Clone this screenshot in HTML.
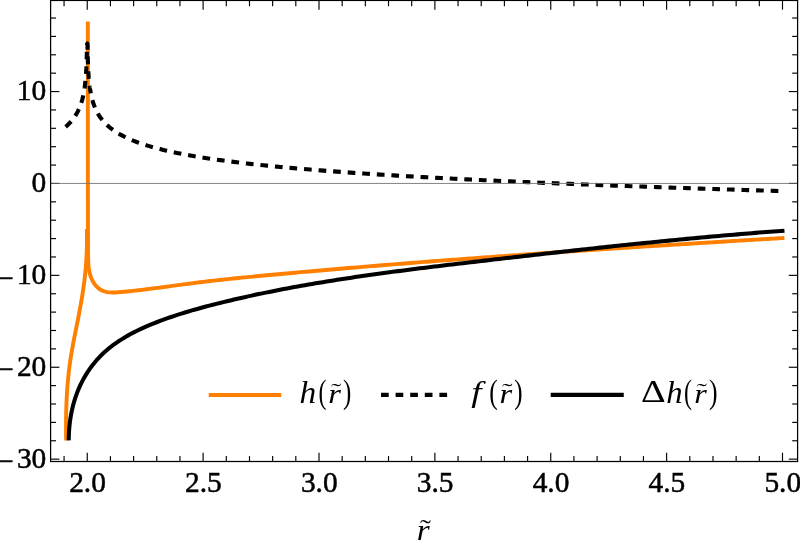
<!DOCTYPE html>
<html lang="en">
<head>
<meta charset="utf-8">
<title>Plot of h, f and Δh versus r̃</title>
<style>
html,body{margin:0;padding:0;background:#fff;}
body{width:800px;height:540px;overflow:hidden;}
svg{display:block;}
.tk{font-family:"Liberation Serif","DejaVu Serif",serif;font-size:29.6px;fill:#000;stroke:#000;stroke-width:0.5px;}
.mi{font-family:"Liberation Serif","DejaVu Serif",serif;font-style:italic;font-size:30px;fill:#000;}
.mr{font-family:"Liberation Serif","DejaVu Serif",serif;font-size:30px;fill:#000;}
</style>
</head>
<body>
<svg width="800" height="540" viewBox="0 0 800 540">
<rect x="0" y="0" width="800" height="540" fill="#ffffff"/>
<defs><clipPath id="pc"><rect x="51" y="1" width="746" height="439.6"/></clipPath></defs>
<g clip-path="url(#pc)" fill="none" stroke-linejoin="round">
<path d="M66.13,441.02 L66.09,438.31 L66.06,435.60 L66.04,432.89 L66.02,430.18 L66.02,427.48 L66.02,424.77 L66.04,422.06 L66.06,419.35 L66.10,416.65 L66.15,413.94 L66.21,411.23 L66.29,408.53 L66.37,405.82 L66.47,403.12 L66.59,400.42 L66.72,397.72 L66.86,395.02 L67.03,392.32 L67.20,389.63 L67.40,386.93 L67.61,384.24 L67.84,381.55 L68.08,378.86 L68.35,376.17 L68.63,373.49 L68.93,370.81 L69.26,368.13 L69.60,365.45 L69.97,362.78 L70.35,360.11 L70.76,357.44 L71.19,354.77 L71.64,352.11 L72.10,349.45 L72.58,346.79 L73.07,344.13 L73.57,341.47 L74.08,338.82 L74.60,336.17 L75.13,333.51 L75.66,330.86 L76.19,328.21 L76.72,325.55 L77.25,322.90 L77.77,320.25 L78.29,317.59 L78.81,314.94 L79.32,312.28 L79.82,309.62 L80.30,306.96 L80.78,304.30 L81.25,301.64 L81.71,298.98 L82.15,296.31 L82.58,293.64 L82.99,290.97 L83.38,288.30 L83.76,285.63 L84.12,282.95 L84.46,280.28 L84.78,277.59 L85.08,274.91 L85.36,272.23 L85.61,269.54 L85.84,266.85 L86.05,264.15 L86.24,261.46 L86.41,258.76 L86.55,256.06 L86.67,253.36 L86.77,250.65 L86.85,247.95 L86.91,245.24 L86.95,242.53 L86.97,239.82 L86.96,237.11 L86.94,234.40 L86.89,231.68 L86.83,228.97" stroke="#ff8000" stroke-width="3.9"/>
<path d="M87.85,21.40 L87.90,200.00 L88.04,250.03 L88.11,252.58 L88.13,255.26 L88.16,258.04 L88.22,260.90 L88.35,263.80 L88.59,266.74 L88.98,269.68 L89.54,272.59 L90.32,275.45 L91.35,278.23 L92.61,280.88 L94.10,283.36 L95.80,285.62 L97.71,287.60 L99.81,289.27 L102.09,290.57 L104.53,291.49 L107.11,292.08 L109.80,292.40 L112.57,292.50 L115.41,292.44 L118.29,292.26 L121.18,292.02 L124.05,291.75 L126.92,291.48 L129.78,291.19 L132.63,290.90 L135.48,290.59 L138.31,290.27 L141.14,289.94 L143.96,289.60 L146.77,289.26 L149.58,288.91 L152.38,288.55 L155.18,288.19 L157.98,287.82 L160.76,287.45 L163.55,287.07 L166.33,286.70 L169.12,286.32 L171.89,285.94 L174.67,285.57 L177.45,285.19 L180.23,284.81 L183.00,284.44 L185.78,284.07 L188.56,283.71 L191.34,283.35 L194.12,283.00 L196.91,282.65 L199.69,282.31 L202.48,281.97 L205.27,281.64 L208.06,281.31 L210.85,280.98 L213.64,280.66 L216.44,280.35 L219.24,280.04 L222.03,279.73 L224.83,279.43 L227.63,279.13 L230.44,278.83 L233.24,278.54 L236.04,278.25 L238.85,277.97 L241.65,277.68 L244.46,277.40 L247.26,277.13 L250.07,276.85 L252.88,276.58 L255.69,276.31 L258.50,276.04 L261.31,275.77 L264.12,275.51 L266.93,275.25 L269.74,274.99 L272.55,274.73 L275.36,274.47 L278.17,274.21 L280.98,273.95 L283.79,273.70 L286.60,273.44 L289.42,273.19 L292.23,272.94 L295.04,272.69 L297.85,272.43 L300.66,272.18 L303.47,271.93 L306.28,271.69 L309.09,271.44 L311.90,271.19 L314.71,270.94 L317.53,270.70 L320.34,270.45 L323.15,270.21 L325.96,269.97 L328.77,269.73 L331.58,269.48 L334.39,269.24 L337.20,269.00 L340.01,268.76 L342.82,268.53 L345.63,268.29 L348.45,268.05 L351.26,267.81 L354.07,267.58 L356.88,267.34 L359.69,267.11 L362.50,266.88 L365.31,266.65 L368.12,266.41 L370.93,266.18 L373.74,265.95 L376.55,265.72 L379.36,265.49 L382.18,265.27 L384.99,265.04 L387.80,264.81 L390.61,264.59 L393.42,264.36 L396.23,264.14 L399.04,263.91 L401.85,263.69 L404.66,263.47 L407.47,263.24 L410.28,263.02 L413.09,262.80 L415.91,262.58 L418.72,262.36 L421.53,262.15 L424.34,261.93 L427.15,261.71 L429.96,261.49 L432.77,261.28 L435.58,261.06 L438.39,260.85 L441.20,260.63 L444.02,260.42 L446.83,260.21 L449.64,260.00 L452.45,259.78 L455.26,259.57 L458.07,259.36 L460.88,259.15 L463.69,258.94 L466.50,258.74 L469.31,258.53 L472.13,258.32 L474.94,258.11 L477.75,257.91 L480.56,257.70 L483.37,257.50 L486.18,257.29 L488.99,257.09 L491.80,256.88 L494.62,256.68 L497.43,256.48 L500.24,256.28 L503.05,256.08 L505.86,255.87 L508.67,255.67 L511.48,255.47 L514.30,255.28 L517.11,255.08 L519.92,254.88 L522.73,254.68 L525.54,254.48 L528.35,254.29 L531.17,254.09 L533.98,253.90 L536.79,253.70 L539.60,253.51 L542.41,253.31 L545.22,253.12 L548.04,252.92 L550.85,252.73 L553.66,252.54 L556.47,252.35 L559.28,252.16 L562.10,251.96 L564.91,251.77 L567.72,251.58 L570.53,251.39 L573.35,251.20 L576.16,251.02 L578.97,250.83 L581.78,250.64 L584.59,250.45 L587.41,250.27 L590.22,250.08 L593.03,249.89 L595.84,249.71 L598.66,249.52 L601.47,249.34 L604.28,249.15 L607.09,248.97 L609.91,248.78 L612.72,248.60 L615.53,248.42 L618.35,248.23 L621.16,248.05 L623.97,247.87 L626.79,247.69 L629.60,247.51 L632.41,247.32 L635.22,247.14 L638.04,246.96 L640.85,246.78 L643.66,246.60 L646.48,246.42 L649.29,246.24 L652.11,246.07 L654.92,245.89 L657.73,245.71 L660.55,245.53 L663.36,245.35 L666.17,245.18 L668.99,245.00 L671.80,244.82 L674.62,244.65 L677.43,244.47 L680.24,244.30 L683.06,244.12 L685.87,243.94 L688.69,243.77 L691.50,243.59 L694.32,243.42 L697.13,243.25 L699.94,243.07 L702.76,242.90 L705.57,242.72 L708.39,242.55 L711.20,242.38 L714.02,242.21 L716.83,242.03 L719.65,241.86 L722.46,241.69 L725.28,241.52 L728.09,241.35 L730.91,241.17 L733.72,241.00 L736.54,240.83 L739.36,240.66 L742.17,240.49 L744.99,240.32 L747.80,240.15 L750.62,239.98 L753.43,239.81 L756.25,239.64 L759.07,239.47 L761.88,239.30 L764.70,239.13 L767.51,238.96 L770.33,238.79 L773.15,238.62 L775.96,238.45 L778.78,238.29 L781.60,238.12 L784.41,237.95" stroke="#ff8000" stroke-width="3.9" stroke-linejoin="miter"/>
<path d="M65.60,126.89 L65.95,126.59 L66.29,126.28 L66.64,125.97 L66.98,125.66 L67.33,125.34 L67.67,125.01 L68.02,124.68 L68.37,124.34 L68.71,124.00 L69.06,123.64 L69.40,123.29 L69.75,122.92 L70.09,122.55 L70.44,122.17 L70.79,121.78 L71.13,121.39 L71.48,120.98 L71.82,120.57 L72.17,120.15 L72.52,119.72 L72.86,119.28 L73.21,118.82 L73.55,118.36 L73.90,117.88 L74.24,117.39 L74.59,116.89 L74.94,116.38 L75.28,115.85 L75.63,115.30 L75.97,114.74 L76.32,114.16 L76.66,113.56 L77.01,112.94 L77.36,112.30 L77.70,111.64 L78.05,110.96 L78.39,110.24 L78.74,109.50 L79.08,108.73 L79.43,107.93 L79.78,107.09 L80.12,106.21 L80.47,105.28 L80.81,104.31 L81.16,103.28 L81.51,102.19 L81.85,101.04 L82.20,99.81 L82.54,98.49 L82.89,97.08 L83.23,95.54 L83.58,93.87 L83.93,92.03 L84.27,89.99 L84.62,87.70 L84.96,85.08 L85.31,82.04 L85.65,78.39 L86.00,73.86 L86.00,73.86 L86.02,73.55 L86.04,73.24 L86.06,72.93 L86.08,72.61 L86.10,72.28 L86.12,71.95 L86.14,71.61 L86.16,71.27 L86.18,70.92 L86.20,70.56 L86.22,70.20 L86.24,69.82 L86.26,69.44 L86.28,69.06 L86.31,68.66 L86.33,68.26 L86.35,67.84 L86.37,67.42 L86.39,66.99 L86.41,66.55 L86.43,66.09 L86.45,65.63 L86.47,65.15 L86.49,64.66 L86.51,64.16 L86.53,63.64 L86.55,63.11 L86.57,62.56 L86.59,62.00 L86.61,61.42 L86.63,60.82 L86.65,60.20 L86.67,59.56 L86.69,58.89 L86.71,58.21 L86.73,57.49 L86.75,56.75 L86.77,55.97 L86.79,55.16 L86.81,54.32 L86.83,53.43 L86.85,52.50 L86.87,51.52 L86.89,50.49 L86.92,49.39 L86.94,48.23 L86.96,46.98 L86.98,45.65 L87.00,44.22 L87.40,43.50 L87.51,44.34 L87.54,46.67 L87.57,48.75 L87.61,50.61 L87.64,52.31 L87.68,53.86 L87.71,55.29 L87.74,56.62 L87.78,57.87 L87.81,59.03 L87.85,60.12 L87.88,61.16 L87.92,62.14 L87.95,63.07 L87.98,63.95 L88.02,64.80 L88.05,65.61 L88.09,66.38 L88.12,67.13 L88.15,67.84 L88.19,68.53 L88.22,69.19 L88.26,69.84 L88.29,70.45 L88.33,71.05 L88.36,71.64 L88.39,72.20 L88.43,72.75 L88.46,73.28 L88.50,73.79 L88.53,74.29 L88.56,74.78 L88.60,75.26 L88.63,75.73 L88.67,76.18 L88.70,76.62 L88.74,77.05 L88.77,77.48 L88.80,77.89 L88.84,78.29 L88.87,78.69 L88.91,79.07 L88.94,79.45 L88.97,79.82 L89.01,80.19 L89.04,80.55 L89.08,80.90 L89.11,81.24 L89.15,81.58 L89.18,81.91 L89.21,82.24 L89.25,82.56 L89.28,82.87 L89.32,83.18 L89.35,83.49 L89.38,83.78 L89.42,84.08 L89.45,84.37 L89.49,84.66 L89.52,84.94 L89.56,85.21 L89.59,85.49 L89.62,85.76 L89.66,86.02 L89.69,86.28 L89.73,86.54 L89.76,86.80 L89.79,87.05 L89.83,87.29 L89.86,87.54 L89.90,87.78 L89.93,88.02 L89.97,88.25 L90.00,88.48 L90.38,90.89 L90.76,93.01 L91.14,94.92 L91.52,96.65 L91.90,98.23 L92.28,99.68 L92.66,101.03 L93.04,102.29 L93.42,103.47 L93.80,104.58 L94.18,105.63 L94.56,106.61 L94.94,107.55 L95.32,108.45 L95.70,109.30 L96.08,110.12 L96.46,110.90 L96.84,111.65 L97.22,112.37 L97.59,113.06 L97.97,113.73 L98.35,114.37 L98.73,115.00 L99.11,115.60 L99.49,116.18 L99.87,116.75 L100.25,117.30 L100.63,117.83 L101.01,118.35 L101.39,118.85 L101.77,119.34 L102.15,119.82 L102.53,120.29 L102.91,120.74 L103.29,121.19 L103.67,121.62 L104.05,122.04 L104.43,122.46 L104.81,122.86 L105.19,123.26 L105.57,123.65 L105.95,124.02 L106.33,124.40 L106.71,124.76 L107.09,125.12 L107.47,125.47 L107.85,125.81 L108.23,126.15 L108.61,126.48 L108.99,126.81 L109.37,127.13 L109.75,127.45 L110.13,127.75 L110.51,128.06 L110.89,128.36 L111.27,128.65 L111.65,128.94 L112.03,129.23 L112.41,129.51 L112.78,129.79 L113.16,130.06 L113.54,130.33 L113.92,130.59 L114.30,130.86 L114.68,131.11 L115.06,131.37 L115.44,131.62 L115.82,131.86 L116.20,132.11 L116.58,132.35 L116.96,132.59 L117.34,132.82 L117.72,133.05 L118.10,133.28 L118.48,133.51 L118.86,133.73 L119.24,133.95 L119.62,134.17 L120.00,134.39 L123.34,136.18 L126.68,137.81 L130.02,139.31 L133.35,140.69 L136.69,141.98 L140.03,143.19 L143.37,144.31 L146.71,145.38 L150.05,146.38 L153.39,147.33 L156.73,148.24 L160.06,149.10 L163.40,149.92 L166.74,150.71 L170.08,151.47 L173.42,152.19 L176.76,152.89 L180.10,153.56 L183.44,154.21 L186.77,154.83 L190.11,155.44 L193.45,156.02 L196.79,156.59 L200.13,157.14 L203.47,157.67 L206.81,158.19 L210.14,158.69 L213.48,159.18 L216.82,159.66 L220.16,160.12 L223.50,160.58 L226.84,161.02 L230.18,161.45 L233.52,161.87 L236.85,162.29 L240.19,162.69 L243.53,163.08 L246.87,163.47 L250.21,163.85 L253.55,164.22 L256.89,164.58 L260.23,164.94 L263.56,165.28 L266.90,165.63 L270.24,165.96 L273.58,166.29 L276.92,166.62 L280.26,166.94 L283.60,167.25 L286.93,167.56 L290.27,167.86 L293.61,168.16 L296.95,168.45 L300.29,168.74 L303.63,169.02 L306.97,169.30 L310.31,169.58 L313.64,169.85 L316.98,170.12 L320.32,170.38 L323.66,170.64 L327.00,170.90 L330.34,171.15 L333.68,171.40 L337.02,171.65 L340.35,171.89 L343.69,172.13 L347.03,172.36 L350.37,172.60 L353.71,172.83 L357.05,173.06 L360.39,173.28 L363.72,173.51 L367.06,173.73 L370.40,173.94 L373.74,174.16 L377.08,174.37 L380.42,174.58 L383.76,174.79 L387.10,175.00 L390.43,175.20 L393.77,175.40 L397.11,175.60 L400.45,175.80 L403.79,175.99 L407.13,176.19 L410.47,176.38 L413.81,176.57 L417.14,176.76 L420.48,176.94 L423.82,177.13 L427.16,177.31 L430.50,177.49 L433.84,177.67 L437.18,177.85 L440.51,178.02 L443.85,178.20 L447.19,178.37 L450.53,178.54 L453.87,178.71 L457.21,178.88 L460.55,179.05 L463.89,179.21 L467.22,179.38 L470.56,179.54 L473.90,179.70 L477.24,179.86 L480.58,180.02 L483.92,180.18 L487.26,180.34 L490.59,180.49 L493.93,180.65 L497.27,180.80 L500.61,180.95 L503.95,181.10 L507.29,181.25 L510.63,181.40 L513.97,181.55 L517.30,181.70 L520.64,181.84 L523.98,181.99 L527.32,182.13 L530.66,182.28 L534.00,182.42 L537.34,182.56 L540.68,182.70 L544.01,182.84 L547.35,182.98 L550.69,183.11 L554.03,183.25 L557.37,183.39 L560.71,183.52 L564.05,183.66 L567.38,183.79 L570.72,183.92 L574.06,184.05 L577.40,184.18 L580.74,184.32 L584.08,184.44 L587.42,184.57 L590.76,184.70 L594.09,184.83 L597.43,184.96 L600.77,185.08 L604.11,185.21 L607.45,185.33 L610.79,185.46 L614.13,185.58 L617.47,185.70 L620.80,185.82 L624.14,185.95 L627.48,186.07 L630.82,186.19 L634.16,186.31 L637.50,186.43 L640.84,186.54 L644.17,186.66 L647.51,186.78 L650.85,186.90 L654.19,187.01 L657.53,187.13 L660.87,187.24 L664.21,187.36 L667.55,187.47 L670.88,187.59 L674.22,187.70 L677.56,187.81 L680.90,187.92 L684.24,188.04 L687.58,188.15 L690.92,188.26 L694.26,188.37 L697.59,188.48 L700.93,188.59 L704.27,188.70 L707.61,188.81 L710.95,188.91 L714.29,189.02 L717.63,189.13 L720.96,189.24 L724.30,189.34 L727.64,189.45 L730.98,189.55 L734.32,189.66 L737.66,189.76 L741.00,189.87 L744.34,189.97 L747.67,190.08 L751.01,190.18 L754.35,190.28 L757.69,190.39 L761.03,190.49 L764.37,190.59 L767.71,190.69 L771.05,190.79 L774.38,190.89 L777.72,191.00 L781.06,191.10 L784.40,191.20" stroke="#000" stroke-width="4.1" stroke-dasharray="7.7 6.9" stroke-dashoffset="0"/>
<path d="M68.74,440.74 L68.78,437.13 L68.91,433.49 L69.13,429.85 L69.44,426.21 L69.84,422.57 L70.34,418.93 L70.93,415.31 L71.62,411.71 L72.41,408.12 L73.30,404.57 L74.29,401.04 L75.39,397.56 L76.59,394.12 L77.89,390.73 L79.31,387.39 L80.82,384.10 L82.44,380.87 L84.17,377.71 L85.99,374.61 L87.92,371.58 L89.94,368.62 L92.05,365.74 L94.27,362.94 L96.58,360.22 L98.98,357.58 L101.47,355.04 L104.05,352.58 L106.71,350.21 L109.46,347.93 L112.28,345.73 L115.17,343.61 L118.13,341.57 L121.16,339.60 L124.24,337.70 L127.37,335.87 L130.56,334.10 L133.79,332.40 L137.06,330.76 L140.37,329.17 L143.71,327.64 L147.07,326.16 L150.46,324.72 L153.87,323.33 L157.29,321.99 L160.72,320.68 L164.16,319.42 L167.61,318.18 L171.06,316.98 L174.52,315.82 L177.98,314.69 L181.45,313.58 L184.92,312.50 L188.40,311.45 L191.88,310.43 L195.36,309.43 L198.85,308.45 L202.35,307.50 L205.85,306.56 L209.35,305.64 L212.86,304.73 L216.36,303.85 L219.88,302.97 L223.39,302.11 L226.91,301.26 L230.43,300.42 L233.95,299.59 L237.48,298.77 L241.01,297.97 L244.54,297.17 L248.07,296.39 L251.61,295.62 L255.15,294.85 L258.69,294.10 L262.23,293.36 L265.78,292.63 L269.33,291.90 L272.88,291.19 L276.43,290.49 L279.99,289.79 L283.54,289.11 L287.10,288.43 L290.66,287.77 L294.23,287.11 L297.79,286.46 L301.36,285.82 L304.93,285.18 L308.50,284.56 L312.07,283.94 L315.65,283.33 L319.22,282.73 L322.80,282.14 L326.38,281.55 L329.96,280.97 L333.54,280.40 L337.13,279.84 L340.71,279.28 L344.30,278.72 L347.88,278.18 L351.47,277.64 L355.06,277.11 L358.66,276.58 L362.25,276.06 L365.84,275.54 L369.44,275.03 L373.03,274.52 L376.63,274.02 L380.23,273.53 L383.83,273.04 L387.43,272.55 L391.03,272.07 L394.63,271.59 L398.23,271.12 L401.84,270.65 L405.44,270.19 L409.04,269.72 L412.65,269.27 L416.25,268.81 L419.86,268.36 L423.47,267.91 L427.07,267.47 L430.68,267.03 L434.29,266.59 L437.89,266.15 L441.50,265.71 L445.11,265.28 L448.72,264.85 L452.33,264.42 L455.93,263.99 L459.54,263.57 L463.15,263.14 L466.76,262.72 L470.37,262.30 L473.97,261.88 L477.58,261.46 L481.19,261.04 L484.80,260.62 L488.40,260.20 L492.01,259.78 L495.62,259.36 L499.22,258.94 L502.83,258.53 L506.43,258.11 L510.04,257.70 L513.64,257.28 L517.25,256.87 L520.85,256.45 L524.46,256.04 L528.06,255.63 L531.67,255.22 L535.27,254.81 L538.88,254.40 L542.48,253.99 L546.08,253.59 L549.69,253.18 L553.29,252.78 L556.90,252.37 L560.50,251.97 L564.10,251.57 L567.71,251.17 L571.31,250.77 L574.92,250.38 L578.52,249.98 L582.12,249.59 L585.73,249.19 L589.33,248.80 L592.94,248.41 L596.54,248.02 L600.15,247.63 L603.75,247.25 L607.36,246.87 L610.96,246.48 L614.57,246.10 L618.17,245.72 L621.78,245.35 L625.38,244.97 L628.99,244.60 L632.60,244.22 L636.20,243.85 L639.81,243.48 L643.42,243.12 L647.03,242.75 L650.63,242.39 L654.24,242.03 L657.85,241.67 L661.46,241.31 L665.07,240.96 L668.68,240.61 L672.29,240.26 L675.90,239.91 L679.51,239.56 L683.12,239.22 L686.73,238.88 L690.34,238.54 L693.96,238.20 L697.57,237.87 L701.18,237.54 L704.80,237.21 L708.41,236.88 L712.03,236.56 L715.64,236.24 L719.26,235.92 L722.87,235.60 L726.49,235.29 L730.11,234.98 L733.73,234.67 L737.35,234.36 L740.97,234.06 L744.59,233.76 L748.21,233.46 L751.83,233.17 L755.45,232.88 L759.07,232.59 L762.70,232.30 L766.32,232.02 L769.95,231.74 L773.57,231.46 L777.20,231.19 L780.83,230.92 L784.46,230.65" stroke="#000" stroke-width="4.05"/>
</g>
<g stroke="#000" stroke-width="1.15" fill="none">
<path d="M64.07,461.5 v-5.4"/>
<path d="M64.07,0.45 v5.800000000000001"/>
<path d="M87.25,461.5 v-8.8"/>
<path d="M87.25,0.45 v9.200000000000001"/>
<path d="M110.43,461.5 v-5.4"/>
<path d="M110.43,0.45 v5.800000000000001"/>
<path d="M133.60,461.5 v-5.4"/>
<path d="M133.60,0.45 v5.800000000000001"/>
<path d="M156.77,461.5 v-5.4"/>
<path d="M156.77,0.45 v5.800000000000001"/>
<path d="M179.95,461.5 v-5.4"/>
<path d="M179.95,0.45 v5.800000000000001"/>
<path d="M203.12,461.5 v-8.8"/>
<path d="M203.12,0.45 v9.200000000000001"/>
<path d="M226.30,461.5 v-5.4"/>
<path d="M226.30,0.45 v5.800000000000001"/>
<path d="M249.48,461.5 v-5.4"/>
<path d="M249.48,0.45 v5.800000000000001"/>
<path d="M272.65,461.5 v-5.4"/>
<path d="M272.65,0.45 v5.800000000000001"/>
<path d="M295.82,461.5 v-5.4"/>
<path d="M295.82,0.45 v5.800000000000001"/>
<path d="M319.00,461.5 v-8.8"/>
<path d="M319.00,0.45 v9.200000000000001"/>
<path d="M342.18,461.5 v-5.4"/>
<path d="M342.18,0.45 v5.800000000000001"/>
<path d="M365.35,461.5 v-5.4"/>
<path d="M365.35,0.45 v5.800000000000001"/>
<path d="M388.52,461.5 v-5.4"/>
<path d="M388.52,0.45 v5.800000000000001"/>
<path d="M411.70,461.5 v-5.4"/>
<path d="M411.70,0.45 v5.800000000000001"/>
<path d="M434.88,461.5 v-8.8"/>
<path d="M434.88,0.45 v9.200000000000001"/>
<path d="M458.05,461.5 v-5.4"/>
<path d="M458.05,0.45 v5.800000000000001"/>
<path d="M481.23,461.5 v-5.4"/>
<path d="M481.23,0.45 v5.800000000000001"/>
<path d="M504.40,461.5 v-5.4"/>
<path d="M504.40,0.45 v5.800000000000001"/>
<path d="M527.58,461.5 v-5.4"/>
<path d="M527.58,0.45 v5.800000000000001"/>
<path d="M550.75,461.5 v-8.8"/>
<path d="M550.75,0.45 v9.200000000000001"/>
<path d="M573.92,461.5 v-5.4"/>
<path d="M573.92,0.45 v5.800000000000001"/>
<path d="M597.10,461.5 v-5.4"/>
<path d="M597.10,0.45 v5.800000000000001"/>
<path d="M620.27,461.5 v-5.4"/>
<path d="M620.27,0.45 v5.800000000000001"/>
<path d="M643.45,461.5 v-5.4"/>
<path d="M643.45,0.45 v5.800000000000001"/>
<path d="M666.62,461.5 v-8.8"/>
<path d="M666.62,0.45 v9.200000000000001"/>
<path d="M689.80,461.5 v-5.4"/>
<path d="M689.80,0.45 v5.800000000000001"/>
<path d="M712.98,461.5 v-5.4"/>
<path d="M712.98,0.45 v5.800000000000001"/>
<path d="M736.15,461.5 v-5.4"/>
<path d="M736.15,0.45 v5.800000000000001"/>
<path d="M759.33,461.5 v-5.4"/>
<path d="M759.33,0.45 v5.800000000000001"/>
<path d="M782.50,461.5 v-8.8"/>
<path d="M782.50,0.45 v9.200000000000001"/>
<path d="M50.6,459.15 h8.8"/>
<path d="M797.6,459.15 h-8.8"/>
<path d="M50.6,440.77 h5.4"/>
<path d="M797.6,440.77 h-5.4"/>
<path d="M50.6,422.39 h5.4"/>
<path d="M797.6,422.39 h-5.4"/>
<path d="M50.6,404.01 h5.4"/>
<path d="M797.6,404.01 h-5.4"/>
<path d="M50.6,385.63 h5.4"/>
<path d="M797.6,385.63 h-5.4"/>
<path d="M50.6,367.25 h8.8"/>
<path d="M797.6,367.25 h-8.8"/>
<path d="M50.6,348.87 h5.4"/>
<path d="M797.6,348.87 h-5.4"/>
<path d="M50.6,330.49 h5.4"/>
<path d="M797.6,330.49 h-5.4"/>
<path d="M50.6,312.11 h5.4"/>
<path d="M797.6,312.11 h-5.4"/>
<path d="M50.6,293.73 h5.4"/>
<path d="M797.6,293.73 h-5.4"/>
<path d="M50.6,275.35 h8.8"/>
<path d="M797.6,275.35 h-8.8"/>
<path d="M50.6,256.97 h5.4"/>
<path d="M797.6,256.97 h-5.4"/>
<path d="M50.6,238.59 h5.4"/>
<path d="M797.6,238.59 h-5.4"/>
<path d="M50.6,220.21 h5.4"/>
<path d="M797.6,220.21 h-5.4"/>
<path d="M50.6,201.83 h5.4"/>
<path d="M797.6,201.83 h-5.4"/>
<path d="M50.6,183.45 h8.8"/>
<path d="M797.6,183.45 h-8.8"/>
<path d="M50.6,165.07 h5.4"/>
<path d="M797.6,165.07 h-5.4"/>
<path d="M50.6,146.69 h5.4"/>
<path d="M797.6,146.69 h-5.4"/>
<path d="M50.6,128.31 h5.4"/>
<path d="M797.6,128.31 h-5.4"/>
<path d="M50.6,109.93 h5.4"/>
<path d="M797.6,109.93 h-5.4"/>
<path d="M50.6,91.55 h8.8"/>
<path d="M797.6,91.55 h-8.8"/>
<path d="M50.6,73.17 h5.4"/>
<path d="M797.6,73.17 h-5.4"/>
<path d="M50.6,54.79 h5.4"/>
<path d="M797.6,54.79 h-5.4"/>
<path d="M50.6,36.41 h5.4"/>
<path d="M797.6,36.41 h-5.4"/>
<path d="M50.6,18.03 h5.4"/>
<path d="M797.6,18.03 h-5.4"/>
</g>
<path d="M50.6,183.45 H797.6" stroke="#6e6e6e" stroke-width="0.85" fill="none"/>
<rect x="50.6" y="0.45" width="747.0" height="461.05" fill="none" stroke="#000" stroke-width="1.25"/>
<g class="tk">
<text transform="matrix(0.995,0,0,1,87.55,491.6)" text-anchor="middle">2.0</text>
<text transform="matrix(0.995,0,0,1,203.43,491.6)" text-anchor="middle">2.5</text>
<text transform="matrix(0.995,0,0,1,319.30,491.6)" text-anchor="middle">3.0</text>
<text transform="matrix(0.995,0,0,1,435.18,491.6)" text-anchor="middle">3.5</text>
<text transform="matrix(0.995,0,0,1,551.05,491.6)" text-anchor="middle">4.0</text>
<text transform="matrix(0.995,0,0,1,666.92,491.6)" text-anchor="middle">4.5</text>
<text transform="matrix(0.995,0,0,1,782.80,491.6)" text-anchor="middle">5.0</text>
<text transform="matrix(0.995,0,0,1,46.3,100.30)" text-anchor="end">10</text>
<text transform="matrix(0.995,0,0,1,46.3,192.20)" text-anchor="end">0</text>
<text transform="matrix(0.995,0,0,1,49.4,284.10)" text-anchor="end"><tspan dx="-3.1" dy="3.45">−</tspan><tspan dx="3.1" dy="-3.45">10</tspan></text>
<text transform="matrix(0.995,0,0,1,49.4,376.00)" text-anchor="end"><tspan dx="-3.1" dy="3.45">−</tspan><tspan dx="3.1" dy="-3.45">20</tspan></text>
<text transform="matrix(0.995,0,0,1,49.4,467.90)" text-anchor="end"><tspan dx="-3.1" dy="3.45">−</tspan><tspan dx="3.1" dy="-3.45">30</tspan></text>
</g>
<!-- legend -->
<path d="M208.75,394.9 H281.25" stroke="#ff8000" stroke-width="3.95" fill="none"/>
<path d="M381,394.85 H453.5" stroke="#000" stroke-width="4.1" stroke-dasharray="7.7 6.9" fill="none"/>
<path d="M550.7,394.85 H623.75" stroke="#000" stroke-width="4.1" fill="none"/>
<g font-family="'Liberation Serif','DejaVu Serif',serif" fill="#000">
<text transform="matrix(0.3341,0,0,0.3080,299.48,402.70)" font-size="100" font-style="italic">h</text>
<text transform="matrix(0.2392,0,0,0.3356,318.47,402.80)" font-size="100">(</text>
<text transform="matrix(0.3257,0,0,0.2753,328.25,402.69)" font-size="100" font-style="italic">r</text>
<text transform="matrix(0.3079,0,0,0.2077,330.94,397.57)" font-size="100">˜</text>
<text transform="matrix(0.2500,0,0,0.3356,342.90,402.80)" font-size="100">)</text>
<text transform="matrix(0.3711,0,0,0.3005,471.18,402.14)" font-size="100" font-style="italic">f</text>
<text transform="matrix(0.2549,0,0,0.3356,489.30,402.80)" font-size="100">(</text>
<text transform="matrix(0.3257,0,0,0.2753,499.55,402.69)" font-size="100" font-style="italic">r</text>
<text transform="matrix(0.3175,0,0,0.2077,501.93,397.57)" font-size="100">˜</text>
<text transform="matrix(0.2500,0,0,0.3356,514.20,402.80)" font-size="100">)</text>
<text transform="matrix(0.3841,0,0,0.3237,640.91,402.45)" font-size="100">Δ</text>
<text transform="matrix(0.3271,0,0,0.3080,666.21,402.70)" font-size="100" font-style="italic">h</text>
<text transform="matrix(0.2392,0,0,0.3356,683.97,402.80)" font-size="100">(</text>
<text transform="matrix(0.3229,0,0,0.2753,694.16,402.69)" font-size="100" font-style="italic">r</text>
<text transform="matrix(0.3079,0,0,0.2077,696.74,397.57)" font-size="100">˜</text>
<text transform="matrix(0.2577,0,0,0.3356,708.88,402.80)" font-size="100">)</text>
<text transform="matrix(0.3314,0,0,0.2968,416.82,540.10)" font-size="100" font-style="italic">r</text>
<text transform="matrix(0.3270,0,0,0.2385,420.02,535.65)" font-size="100">˜</text>
</g>
</svg>
</body>
</html>
